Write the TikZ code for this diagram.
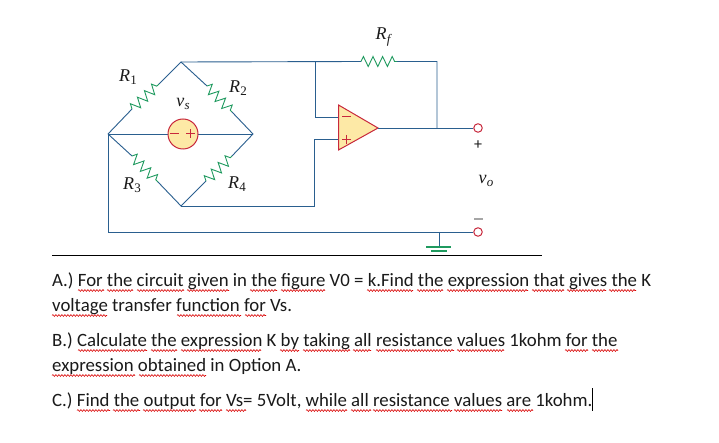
\documentclass[tikz,border=0pt]{standalone}
\usepackage{fontspec}
\setmainfont{Carlito}
\newfontfamily\circfont{Liberation Serif}
\usetikzlibrary{decorations.pathmorphing,calc}
\definecolor{wire}{HTML}{2A5F8F}
\definecolor{resgreen}{HTML}{1F9A5F}
\definecolor{partred}{HTML}{C8283C}
\definecolor{partfill}{HTML}{FDE9A6}
\definecolor{txt}{HTML}{1A1A1A}
\newcommand{\CL}[2]{{\circfont\itshape #1\kern0.3pt\raisebox{-3.5pt}{\fontsize{13}{13}\selectfont\itshape #2}}}
\newcommand{\CN}[2]{{\circfont\itshape #1\kern0.3pt\raisebox{-3.5pt}{\fontsize{13}{13}\selectfont\upshape #2}}}
\tikzset{
  wireline/.style={draw=wire,line width=0.9pt},
  resline/.style={draw=resgreen,line width=0.9pt,decorate,decoration={zigzag,segment length=9.6pt,amplitude=5pt}},
  partline/.style={draw=partred,line width=1pt},
  term/.style={circle,draw=partred,line width=1pt,fill=white,minimum size=8.5pt,inner sep=0pt},
  clabel/.style={inner sep=0pt,font=\fontsize{18}{18}\selectfont,text=txt},
  para/.style={anchor=base west,inner sep=0pt,text=txt,font=\fontsize{18.8}{21}\selectfont},
  squig/.style={draw=red!85!black,line width=0.6pt,decorate,decoration={snake,segment length=3pt,amplitude=0.9pt}}
}
\newcommand{\sq}[3]{\draw[squig] (#1,#3) -- (#2,#3);}
\begin{document}
\begin{tikzpicture}[x=1pt,y=-1pt]
\useasboundingbox (0,0) rectangle (719,443);
\fill[white] (0,0) rectangle (719,443);
% bridge nodes
\coordinate (T) at (181,62);
\coordinate (L) at (108,134);
\coordinate (Rt) at (253,134);
\coordinate (B) at (181,206);
\coordinate (r1a) at (132,109); \coordinate (r1b) at (159,84);
\coordinate (r2a) at (207,86);  \coordinate (r2b) at (232,112);
\coordinate (r3a) at (132,156); \coordinate (r3b) at (158,182);
\coordinate (r4a) at (206,181); \coordinate (r4b) at (232,156);
\coordinate (rfa) at (361,61.5); \coordinate (rfb) at (397,61.5);
\coordinate (fbr) at (437,61.5);
\coordinate (outj) at (437,128);
\coordinate (fbl) at (315,61.5);
\coordinate (fbd) at (315,117);
\coordinate (inm) at (338.5,117);
\coordinate (inp) at (338.5,139);
\coordinate (ppd) at (314,139);
\coordinate (ppb) at (314,206);
\coordinate (cor) at (108,232);
\coordinate (gj) at (439,232);
\coordinate (gd) at (439,247);
\coordinate (oa1) at (338.5,105);
\coordinate (oa2) at (338.5,150);
\coordinate (oa3) at (378,128);
% wires
\draw[wireline] (L) -- (r1a) (r1b) -- (T) -- (r2a) (r2b) -- (Rt) -- (r4b) (r4a) -- (B) -- (r3b) (r3a) -- (L);
\draw[wireline] (L) -- (Rt);
\draw[wireline] (T) -- (rfa) (rfb) -- (fbr) -- (outj);
\draw[wireline] (fbl) -- (fbd) -- (inm);
\draw[wireline] (B) -- (ppb) -- (ppd) -- (inp);
\draw[wireline] (L) -- (cor) -- (gj);
\draw[wireline] (gj) -- (gd);
% resistors
\draw[resline] (r1a) -- (r1b);
\draw[resline] (r2a) -- (r2b);
\draw[resline] (r3a) -- (r3b);
\draw[resline] (r4a) -- (r4b);
\draw[resline] (rfa) -- (rfb);
% source
\node[circle,draw=partred,fill=partfill,line width=1pt,minimum size=30pt,inner sep=0pt] (vs) at (183,134) {};
\draw[partline] (170,134) -- (178.5,134);
\draw[partline] (190.5,129.5) -- (190.5,138.5) (186,134) -- (195,134);
% opamp
\filldraw[partline,fill=partfill] (oa1) -- (oa3) -- (oa2) -- cycle;
\draw[partline] (342,117) -- (351,117);
\draw[partline] (342,139.5) -- (351,139.5) (346.5,135) -- (346.5,144);
% output
\node[term] (to) at (478,128) {};
\node[term] (tg) at (478,232) {};
\draw[wireline] (oa3) -- (to);
\draw[wireline] (gj) -- (tg);
% ground
\draw[draw=resgreen,line width=1.2pt] (426,247) -- (451,247) (431,251) -- (447,251);
% labels
\node[clabel] (lr1) at (128,77) {\CN{R}{1}};
\node[clabel] (lr2) at (238,88) {\CN{R}{2}};
\node[clabel] (lr3) at (132,185) {\CN{R}{3}};
\node[clabel] (lr4) at (237,184) {\CN{R}{4}};
\node[clabel] (lvs) at (183,104) {\CL{v}{s}};
\node[clabel] (lrf) at (383,37) {\CL{R}{f}};
\node[clabel] (lvo) at (486,181) {\CL{v}{o}};
\node[clabel,font=\fontsize{16}{16}\selectfont] (lp) at (478,145) {+};
\draw[draw=gray!70,line width=1.2pt] (474,219) -- (482.5,219);
% rule
\draw[black,line width=0.9pt] (52,255) -- (542,255);
% text
\node[para] (t1) at (52,286) {A.) For the circuit given in the figure V0 = k.Find the expression that gives the K};
\node[para] (t2) at (52,311) {voltage transfer function for Vs.};
\node[para] (t3) at (52,346) {B.) Calculate the expression K by taking all resistance values 1kohm for the};
\node[para] (t4) at (52,371) {expression obtained in Option A.};
\node[para] (t5) at (52,406) {C.) Find the output for Vs= 5Volt, while all resistance values are 1kohm.};
\draw[black,line width=0.8pt] (592,388) -- (592,411);
% spell-check marks
\sq{78}{104}{290.5}\sq{107}{133}{290.5}\sq{137}{184}{290.5}\sq{187}{229}{290.5}\sq{250}{277}{290.5}\sq{281}{325}{290.5}
\sq{367}{413}{290.5}\sq{417}{443}{290.5}\sq{447}{528}{290.5}\sq{532}{564}{290.5}\sq{567}{606}{290.5}\sq{609}{636}{290.5}
\sq{52}{107}{315.5}\sq{177}{241}{315.5}\sq{245}{266}{315.5}
\sq{78}{147}{350.5}\sq{151}{177}{350.5}\sq{181}{261}{350.5}\sq{280}{299}{350.5}\sq{303}{350}{350.5}\sq{353}{371}{350.5}
\sq{376}{454}{350.5}\sq{457}{504}{350.5}\sq{565}{588}{350.5}\sq{592}{618}{350.5}
\sq{52}{135}{375.5}\sq{139}{206}{375.5}
\sq{77}{110}{410.5}\sq{113}{140}{410.5}\sq{143}{196}{410.5}\sq{199}{222}{410.5}\sq{226}{246}{410.5}
\sq{306}{347}{410.5}\sq{351}{371}{410.5}\sq{373}{452}{410.5}\sq{454}{502}{410.5}\sq{507}{533}{410.5}
\end{tikzpicture}
\end{document}
